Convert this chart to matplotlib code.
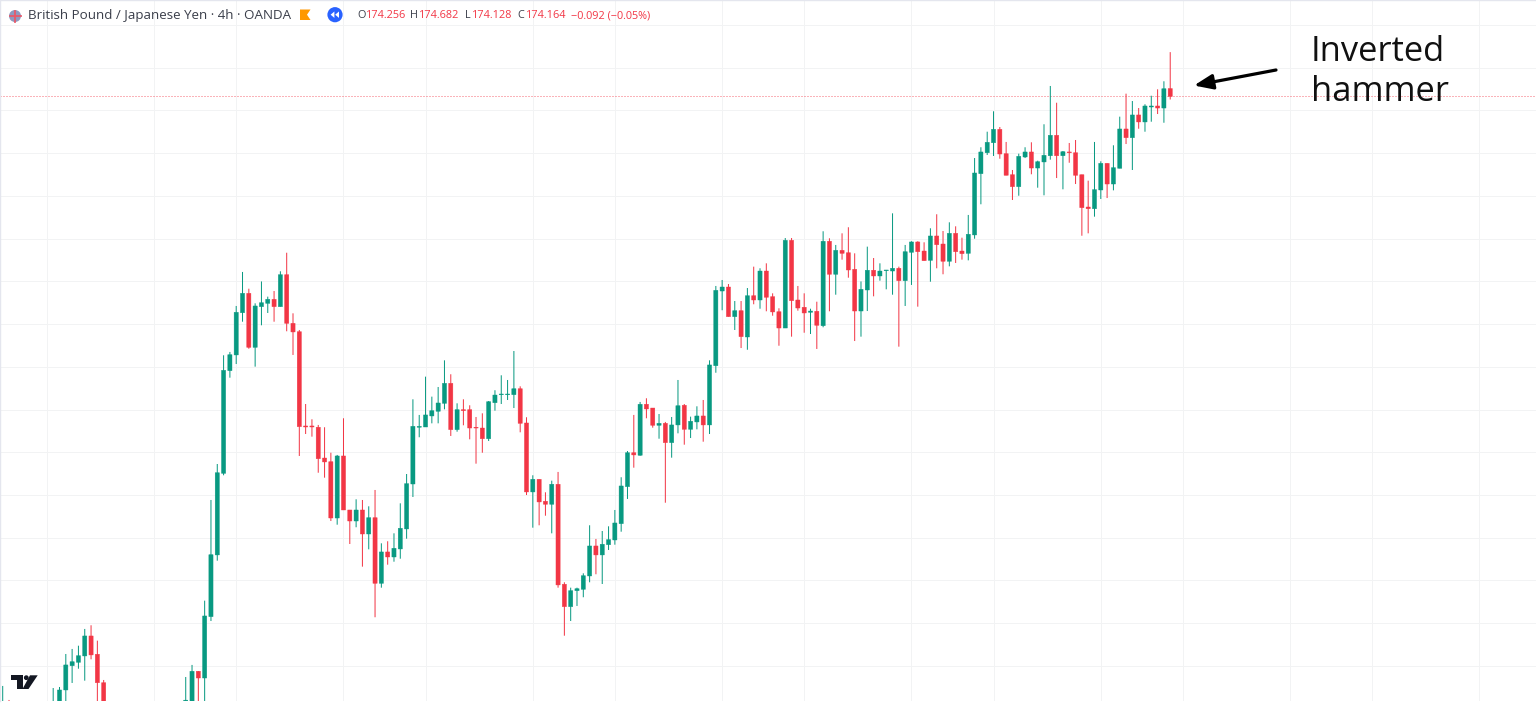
"""GBP/JPY 4h candlestick screenshot with an inverted hammer callout."""
import numpy as np
import matplotlib
matplotlib.use("Agg")
import matplotlib.pyplot as plt
from matplotlib.patches import Circle, Polygon

nan = np.nan

# candles, oldest first; nan = candle sits fully below the visible price range
opens = [
    166.95, 167.00, nan, nan, nan, nan, nan, nan, 166.90, 166.95,
    167.219, 167.503, 167.543, 167.617, 167.851, 167.637, 167.304, nan, nan, nan,
    nan, nan, nan, nan, nan, nan, nan, nan, nan, 166.90,
    166.95, 167.438, 167.359, 168.077, 168.799, 169.754, 170.955, 171.139, 171.633, 171.860,
    171.228, 171.704, 171.743, 171.790, 171.704, 172.078, 171.509, 171.411, 170.308, 170.308,
    170.293, 169.933, 169.890, 169.231, 169.957, 169.325, 169.196, 169.325, 169.044, 169.235,
    168.467, 168.834, 168.775, 168.869, 169.103, 169.629, 170.293, 170.296, 170.425, 170.480,
    170.573, 170.807, 170.265, 170.499, 170.499, 170.293, 170.284, 170.159, 170.580, 170.674,
    170.674, 170.674, 170.744, 170.343, 169.536, 169.684, 169.427, 169.392, 169.626, 168.456,
    168.194, 168.381, 168.397, 168.553, 168.904, 168.799, 168.919, 168.974, 169.165, 169.598,
    169.995, 169.965, 170.562, 170.518, 170.316, 170.339, 170.113, 170.320, 170.550, 170.269,
    170.355, 170.425, 170.320, 171.013, 171.887, 171.934, 171.587, 171.657, 171.349, 171.832,
    171.782, 172.121, 171.821, 171.645, 171.454, 172.480, 171.782, 171.697, 171.638, 171.650,
    171.481, 172.469, 172.083, 172.363, 172.335, 172.141, 171.653, 171.899, 172.130, 172.063,
    172.125, 172.121, 172.153, 172.008, 172.340, 172.461, 172.355, 172.246, 172.531, 172.437,
    172.235, 172.562, 172.355, 172.328, 172.543, 173.260, 173.505, 173.622, 173.779, 173.494,
    173.248, 173.108, 173.455, 173.514, 173.326, 173.397, 173.470, 173.709, 173.470, 173.514,
    173.505, 173.248, 172.870, 172.850, 173.069, 173.381, 173.139, 173.323, 173.783, 173.681,
    173.947, 173.865, 174.040, 174.052, 174.028, 174.256,
]
highs = [
    167.266, 167.102, nan, nan, nan, nan, nan, nan, 167.242, 167.254,
    167.640, 167.699, 167.737, 167.933, 167.976, 167.796, 167.336, nan, nan, nan,
    nan, nan, nan, nan, nan, nan, nan, nan, nan, 167.371,
    167.512, 167.441, 168.264, 169.442, 169.863, 171.135, 171.174, 171.712, 172.110, 171.914,
    171.743, 171.999, 171.821, 171.887, 172.118, 172.335, 171.626, 171.431, 170.565, 170.386,
    170.320, 170.293, 169.995, 169.969, 170.398, 169.325, 169.450, 169.442, 169.368, 169.559,
    168.935, 168.959, 169.052, 169.403, 169.746, 170.620, 170.437, 170.885, 170.651, 170.764,
    171.076, 170.913, 170.573, 170.620, 170.550, 170.413, 170.456, 170.600, 170.726, 170.901,
    170.846, 171.185, 170.772, 170.410, 169.731, 169.684, 169.532, 169.668, 169.770, 168.479,
    168.416, 168.416, 168.584, 169.146, 168.986, 169.079, 169.134, 169.325, 169.708, 170.015,
    170.437, 170.589, 170.632, 170.518, 170.448, 170.355, 170.413, 170.846, 170.565, 170.417,
    170.538, 170.612, 171.076, 171.946, 172.016, 171.969, 171.770, 171.770, 171.922, 172.172,
    172.153, 172.211, 171.860, 171.685, 172.507, 172.507, 171.946, 171.860, 171.680, 171.762,
    172.586, 172.504, 172.426, 172.562, 172.633, 172.328, 171.999, 172.406, 172.273, 172.211,
    172.133, 172.796, 172.172, 172.426, 172.469, 172.469, 172.457, 172.621, 172.785, 172.589,
    172.691, 172.644, 172.511, 172.777, 173.443, 173.569, 173.751, 173.990, 173.806, 173.631,
    173.303, 173.494, 173.569, 173.627, 173.412, 173.838, 174.286, 174.090, 173.525, 173.619,
    173.654, 173.248, 173.178, 173.631, 173.405, 173.381, 173.592, 173.927, 174.196, 174.110,
    174.028, 174.072, 174.172, 174.247, 174.341, 174.682,
]
lows = [
    166.80, 166.80, nan, nan, nan, nan, nan, nan, 166.80, 166.85,
    167.00, 167.301, 167.468, 167.328, 167.578, 167.00, 166.80, nan, nan, nan,
    nan, nan, nan, nan, nan, nan, nan, nan, nan, 166.80,
    166.85, 166.90, 166.95, 168.026, 168.732, 169.731, 170.873, 171.033, 171.528, 171.212,
    171.002, 171.486, 171.630, 171.528, 171.704, 171.416, 171.139, 169.957, 170.214, 170.183,
    169.761, 169.703, 169.196, 169.153, 169.325, 168.927, 169.123, 168.662, 168.865, 168.070,
    168.416, 168.685, 168.720, 168.755, 168.989, 169.477, 170.176, 170.296, 170.339, 170.339,
    170.503, 170.191, 170.241, 170.316, 170.152, 169.867, 169.995, 170.132, 170.487, 170.565,
    170.612, 170.518, 170.234, 169.500, 169.118, 169.146, 169.258, 169.052, 168.416, 167.854,
    168.026, 168.202, 168.304, 168.479, 168.573, 168.459, 168.857, 168.919, 169.071, 169.454,
    169.820, 169.960, 170.398, 170.288, 170.159, 169.410, 169.937, 170.222, 170.089, 170.167,
    170.269, 170.124, 170.214, 170.931, 171.662, 171.587, 171.431, 171.220, 171.200, 171.732,
    171.680, 171.650, 171.598, 171.247, 171.454, 171.353, 171.657, 171.399, 171.384, 171.209,
    171.463, 171.650, 171.844, 172.254, 172.043, 171.302, 171.353, 171.653, 171.825, 172.008,
    171.907, 171.844, 171.236, 171.712, 171.958, 171.704, 172.242, 171.996, 172.153, 172.083,
    172.176, 172.215, 172.254, 172.246, 172.499, 172.902, 173.479, 173.467, 173.435, 173.241,
    172.952, 173.002, 173.443, 173.253, 173.096, 173.007, 173.424, 173.209, 173.077, 173.388,
    173.139, 172.534, 172.562, 172.757, 172.964, 172.975, 173.065, 173.323, 173.607, 173.303,
    173.786, 173.751, 173.868, 173.958, 173.856, 174.128,
]
closes = [
    167.05, 166.90, nan, nan, nan, nan, nan, nan, 167.05, 167.219,
    167.512, 167.550, 167.620, 167.851, 167.629, 167.304, 166.90, nan, nan, nan,
    nan, nan, nan, nan, nan, nan, nan, nan, nan, 167.10,
    167.438, 167.359, 168.085, 168.802, 169.761, 170.959, 171.142, 171.638, 171.860, 171.228,
    171.712, 171.750, 171.790, 171.704, 172.078, 171.509, 171.408, 170.300, 170.296, 170.296,
    169.925, 169.887, 169.231, 169.957, 169.325, 169.196, 169.325, 169.044, 169.235, 168.467,
    168.834, 168.775, 168.877, 169.111, 169.633, 170.304, 170.304, 170.437, 170.487, 170.577,
    170.807, 170.265, 170.499, 170.487, 170.284, 170.284, 170.159, 170.592, 170.670, 170.682,
    170.682, 170.744, 170.339, 169.536, 169.684, 169.419, 169.392, 169.626, 168.448, 168.194,
    168.381, 168.404, 168.556, 168.904, 168.799, 168.924, 168.978, 169.173, 169.606, 169.995,
    169.969, 170.562, 170.507, 170.316, 170.339, 170.113, 170.320, 170.545, 170.269, 170.363,
    170.425, 170.320, 171.022, 171.895, 171.934, 171.587, 171.657, 171.353, 171.832, 171.782,
    172.121, 171.814, 171.642, 171.454, 172.480, 171.774, 171.688, 171.630, 171.653, 171.486,
    172.469, 172.083, 172.363, 172.328, 172.133, 171.653, 171.907, 172.130, 172.063, 172.121,
    172.133, 172.153, 172.008, 172.347, 172.461, 172.347, 172.242, 172.531, 172.429, 172.235,
    172.562, 172.347, 172.324, 172.551, 173.268, 173.514, 173.627, 173.779, 173.490, 173.241,
    173.108, 173.463, 173.514, 173.326, 173.400, 173.475, 173.709, 173.470, 173.517, 173.505,
    173.241, 172.862, 172.850, 173.073, 173.381, 173.139, 173.330, 173.783, 173.681, 173.947,
    173.865, 174.052, 174.052, 174.028, 174.254, 174.164,
]
grid_bars = [7, 24, 37, 54, 67, 84, 97, 114, 127, 144, 157, 174, 187, 204, 217, 234]
grid_prices = [167.5, 168.0, 168.5, 169.0, 169.5, 170.0, 170.5, 171.0, 171.5, 172.0,
               172.5, 173.0, 173.5, 174.0, 174.5, 175.0]
last_close = 174.164

title = "British Pound / Japanese Yen \u00b7 4h \u00b7 OANDA"
ohlc_labels = ["O", "H", "L", "C"]
ohlc_values = ["174.256", "174.682", "174.128", "174.164"]
change_text = "\u22120.092 (\u22120.05%)"

UP = "#089981"
DOWN = "#f23645"
GRID = "#f2f3f4"
EDGE = "#e4e6ee"
TEXT = "#3a3e4a"

W, H = 1536, 708
fig = plt.figure(figsize=(W / 100, H / 100), dpi=100, facecolor="white")
ax = fig.add_axes([0, 7 / H, 1, 701 / H])

o, h, l, c = map(np.array, (opens, highs, lows, closes))
x = np.arange(len(o))
up = c >= o
colors = np.where(up, UP, DOWN)
keep = ~np.isnan(o)

wicks = ax.vlines(x[keep], l[keep], h[keep], colors=colors[keep], linewidth=0.72, zorder=3)
wicks.set_snap(False)
bars = ax.bar(x[keep], np.abs(c - o)[keep], bottom=np.minimum(o, c)[keep], width=0.66,
              color=colors[keep], edgecolor=colors[keep], linewidth=0.3, zorder=4)
for b in bars:
    b.set_snap(False)

ax.axhline(last_close, color=DOWN, linewidth=0.72, linestyle=(0, (1, 2)), alpha=0.75, zorder=2)

ax.set_xlim(-0.428, 242.96)
ax.set_ylim(167.090, 175.292)
ax.set_xticks(grid_bars)
ax.set_yticks(grid_prices)
ax.grid(True, color=GRID, linewidth=0.72)
ax.set_axisbelow(True)
ax.tick_params(length=0, labelbottom=False, labelleft=False)
for side in ("right", "bottom"):
    ax.spines[side].set_visible(False)
for side in ("left", "top"):
    ax.spines[side].set_color(EDGE)
    ax.spines[side].set_linewidth(1.0)

# overlay in pixel coordinates for the header, logo and callout
ov = fig.add_axes([0, 0, 1, 1], facecolor="none")
ov.set_xlim(0, W)
ov.set_ylim(H, 0)
ov.axis("off")

ov.text(28, 15.5, title, color=TEXT, family="Open Sans", fontsize=9.6, va="center")

ov.add_patch(Circle((15, 16), 6, color="#8d9ac0", lw=0))
ov.plot([9.5, 20.5], [16, 16], color="#e8596a", lw=1.3)
ov.plot([15, 15], [10.5, 21.5], color="#e8596a", lw=1.3)

ov.add_patch(Polygon([(300, 9.5), (310.5, 9.5), (307, 14.7), (310.5, 20), (300, 20)],
                     color="#ff9800", lw=0))
ov.add_patch(Circle((335, 14.7), 7.6, color="#2962ff", lw=0))
ov.add_patch(Polygon([(334.4, 11.5), (334.4, 17.9), (330.6, 14.7)], color="white", lw=0))
ov.add_patch(Polygon([(339, 11.5), (339, 17.9), (335.2, 14.7)], color="white", lw=0))

HEAD = dict(family="Open Sans", fontsize=7.8, va="center")
for xl, xv, lab, val in zip([357, 410, 465, 517], [365.5, 418.5, 471.5, 525.5], ohlc_labels, ohlc_values):
    ov.text(xl, 15.5, lab, color=TEXT, **HEAD)
    ov.text(xv, 15.5, val, color=DOWN, **HEAD)
ov.text(571, 15.5, change_text, color=DOWN, **HEAD)

# TradingView mark
ov.add_patch(Polygon([(11, 675.3), (22.7, 675.3), (22.7, 689), (16.7, 689), (16.7, 680.3), (11, 680.3)],
                     color="#131722", lw=0))
ov.add_patch(Circle((26.3, 677.7), 2.4, color="#131722", lw=0))
ov.add_patch(Polygon([(30, 675.3), (37.7, 675.3), (28.5, 689), (22.5, 689)], color="#131722", lw=0))

ov.annotate("", xy=(1194, 85.5), xytext=(1276, 70),
            arrowprops=dict(arrowstyle="-|>,head_length=0.75,head_width=0.3", color="black",
                            lw=2.3, mutation_scale=15, shrinkA=0, shrinkB=0, capstyle="round"))
ov.text(1311, 60.7, "Inverted", family="Open Sans", fontsize=24.8, color="#111111", va="baseline")
ov.text(1311, 101, "hammer", family="Open Sans", fontsize=24.8, color="#111111", va="baseline")

fig.savefig("out.png", dpi=100)
